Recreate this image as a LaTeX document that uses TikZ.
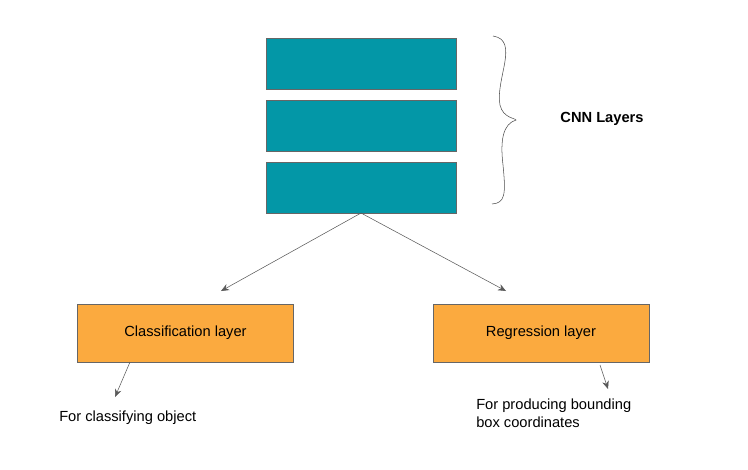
\documentclass[tikz,border=0pt]{standalone}
\usepackage{fontspec}
\setmainfont{Liberation Sans}
\usetikzlibrary{arrows.meta}
\definecolor{layerteal}{HTML}{0397A7}
\definecolor{headorange}{HTML}{FBAA3F}
\tikzset{
  layer/.style={draw=black!60, fill=layerteal, minimum width=142.5pt, minimum height=38pt, inner sep=0pt},
  head/.style={draw=black!60, fill=headorange, minimum width=162pt, minimum height=43.5pt, inner sep=0pt, font=\fontsize{11}{13}\selectfont},
  note/.style={font=\fontsize{11}{13}\selectfont, align=left, inner sep=0pt},
  link/.style={draw=black!65, -{Stealth[length=6pt,width=5pt]}}
}
\begin{document}
\begin{tikzpicture}[x=0.75pt, y=-0.75pt]
  \useasboundingbox (0,0) rectangle (748,469);
  % stacked layers
  \node[layer] (l1) at (361.5,63.5) {};
  \node[layer] (l2) at (361.5,125.5) {};
  \node[layer] (l3) at (361.5,187.5) {};
  \draw[black!70] (493,36) .. controls (520,40) and (495,80) .. (500,105)
    .. controls (503,118) and (515,118) .. (516,120)
    .. controls (503,124) and (500,140) .. (503,165)
    .. controls (506,195) and (505,203) .. (492,204);
  \node[font=\bfseries\fontsize{11}{13}\selectfont] (cnn) at (602,119) {CNN Layers};
  % output heads
  \node[head] (cls) at (185.5,333) {Classification layer};
  \node[head] (reg) at (541,333) {Regression layer};
  \coordinate (split) at (361,213);
  \coordinate (clsin) at (221,291);
  \coordinate (regin) at (506,291);
  \draw[link] (split) -- (clsin);
  \draw[link] (split) -- (regin);
  % notes
  \node[note, anchor=west] (clsnote) at (59,418) {For classifying object};
  \node[note, anchor=north west] (regnote) at (476,399) {For producing bounding\\box coordinates};
  \coordinate (clsout) at (130,362);
  \coordinate (clstip) at (115,397);
  \coordinate (regout) at (600,365);
  \coordinate (regtip) at (608,389);
  \draw[link] (clsout) -- (clstip);
  \draw[link] (regout) -- (regtip);
\end{tikzpicture}
\end{document}
